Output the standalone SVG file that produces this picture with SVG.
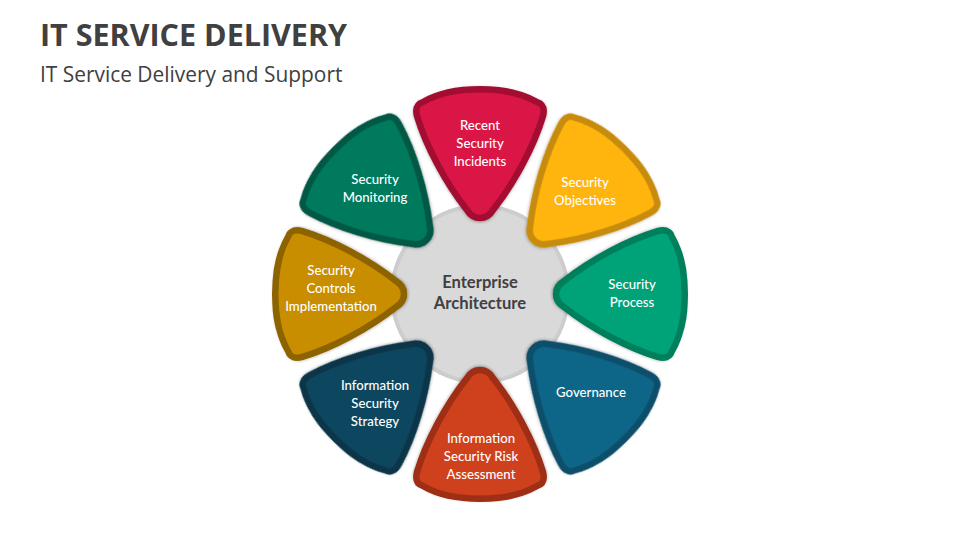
<svg xmlns="http://www.w3.org/2000/svg" width="960" height="540" viewBox="0 0 960 540">
<style>
.t{font-family:"Open Sans","Liberation Sans",sans-serif;fill:#404040}
.l{font-family:Lato,"Liberation Sans",sans-serif;font-size:13.2px;font-weight:500;fill:#fff;text-anchor:middle}
.p{stroke-width:6.5;stroke-linejoin:round;filter:url(#s)}
</style>
<defs>
<filter id="s" x="-20%" y="-20%" width="140%" height="140%"><feDropShadow dx="0" dy="1" stdDeviation="1.5" flood-color="#000" flood-opacity=".3"/></filter>
<path id="petal" d="M0,-76C6,-76 10,-79 13,-84C35,-112 54,-148 63,-178C65,-186 63,-190 57,-192C28,-209 -28,-209 -57,-192C-63,-190 -65,-186 -63,-178C-54,-148 -35,-112 -13,-84C-10,-79 -6,-76 0,-76Z"/>
</defs>
<rect width="960" height="540" fill="#fff"/>
<text class="t" x="40" y="46" font-size="30.5" font-weight="700">IT SERVICE DELIVERY</text>
<text class="t" x="40" y="82" font-size="20.9">IT Service Delivery and Support</text>
<g id="hub">
<circle cx="480" cy="294" r="88" fill="#D9D9D9" stroke="#CDCDCD" stroke-width="4"/>
<text class="t" text-anchor="middle" font-size="16.6" font-weight="700" style="font-family:Lato,'Liberation Sans',sans-serif"><tspan x="480" y="288">Enterprise</tspan><tspan x="480" y="309">Architecture</tspan></text>
</g>
<g id="n1"><use href="#petal" class="p" transform="translate(480 294)" fill="#D91544" stroke="#A30F33"/>
<text class="l"><tspan x="480" y="130">Recent</tspan><tspan x="480" y="148">Security</tspan><tspan x="480" y="166">Incidents</tspan></text></g>
<g id="n2"><use href="#petal" class="p" transform="translate(480 294) rotate(45)" fill="#FFB50E" stroke="#C78C07"/>
<text class="l"><tspan x="585" y="187">Security</tspan><tspan x="585" y="205">Objectives</tspan></text></g>
<g id="n3"><use href="#petal" class="p" transform="translate(480 294) rotate(90)" fill="#04A277" stroke="#037F5D"/>
<text class="l"><tspan x="632" y="289">Security</tspan><tspan x="632" y="307">Process</tspan></text></g>
<g id="n4"><use href="#petal" class="p" transform="translate(480 294) rotate(135)" fill="#0D6587" stroke="#0A4F6A"/>
<text class="l"><tspan x="591" y="397">Governance</tspan></text></g>
<g id="n5"><use href="#petal" class="p" transform="translate(480 294) rotate(180)" fill="#CF3F1A" stroke="#9E2F12"/>
<text class="l"><tspan x="481" y="443">Information</tspan><tspan x="481" y="461">Security Risk</tspan><tspan x="481" y="479">Assessment</tspan></text></g>
<g id="n6"><use href="#petal" class="p" transform="translate(480 294) rotate(225)" fill="#0B475F" stroke="#073648"/>
<text class="l"><tspan x="375" y="390">Information</tspan><tspan x="375" y="408">Security</tspan><tspan x="375" y="426">Strategy</tspan></text></g>
<g id="n7"><use href="#petal" class="p" transform="translate(480 294) rotate(270)" fill="#C98D00" stroke="#8D6400"/>
<text class="l"><tspan x="331" y="275">Security</tspan><tspan x="331" y="293">Controls</tspan><tspan x="331" y="311">Implementation</tspan></text></g>
<g id="n8"><use href="#petal" class="p" transform="translate(480 294) rotate(315)" fill="#037A5B" stroke="#025944"/>
<text class="l"><tspan x="375" y="184">Security</tspan><tspan x="375" y="202">Monitoring</tspan></text></g>
</svg>
